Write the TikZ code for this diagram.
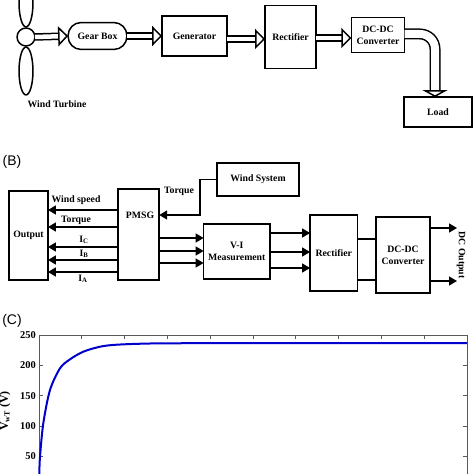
\documentclass[tikz,border=0pt]{standalone}
\usepackage{fontspec}
\setmainfont{Liberation Serif}
\newfontfamily\panelfont{Liberation Sans}
\usetikzlibrary{arrows.meta, shapes.geometric}

\def\w{1.5bp}
\def\blockfont{\fontsize{9.8}{12}\selectfont\bfseries}

\tikzset{
    blockbox/.style = {draw, line width = \w, inner sep = 0, outer sep = 0, align = center, font = \blockfont},
    bladeshape/.style = {draw, ellipse, line width = \w, inner sep = 0, outer sep = 0, minimum width = 14, minimum height = 48},
    hollowarrow/.style = {double, double distance = 4.5bp, line width = \w, -{Triangle[open, fill = white, length = 10bp, width = 20bp, line width = \w]}},
    bendarrow/.style = {double, double distance = 8bp, line width = \w, rounded corners = 15, -{Triangle[open, fill = white, length = 7bp, width = 25bp, line width = \w]}},
    solidarrow/.style = {line width = \w, -{Triangle[length = 8bp, width = 9bp]}},
    axislabel/.style = {font = \fontsize{10.5}{12}\selectfont\bfseries, inner sep = 0},
    panellabel/.style = {font = \panelfont\fontsize{14}{16}\selectfont, inner sep = 0},
    signallabel/.style = {font = \blockfont, inner sep = 0}
}

\begin{document}
\begin{tikzpicture}[x = 1bp, y = -1bp]
    \useasboundingbox (0,0) rectangle (474,474);
    \clip (0,0) rectangle (474,474);

    % wind turbine chain
    \node[bladeshape] (bladetop) at (26,3) {};
    \node[bladeshape] (bladebottom) at (26,71) {};
    \node[draw, circle, fill = white, line width = \w, inner sep = 0, outer sep = 0, minimum size = 18] (hub) at (26,37) {};
    \node[signallabel] (turbinelabel) at (57,104) {Wind Turbine};

    \node[blockbox, rounded corners = 13, minimum width = 59, minimum height = 27] (gearbox) at (97.5,36) {Gear Box};
    \node[blockbox, minimum width = 65, minimum height = 40] (generator) at (194.5,36) {Generator};
    \node[blockbox, minimum width = 51, minimum height = 63] (rectifier) at (290.5,37) {Rectifier};
    \node[blockbox, minimum width = 53.5, minimum height = 35] (converter) at (378,35) {DC-DC\\Converter};
    \node[blockbox, minimum width = 68, minimum height = 30] (load) at (438,112) {Load};

    \draw[hollowarrow] (hub.east) -- (gearbox.west);
    \draw[hollowarrow] (gearbox.east) -- (generator.west);
    \draw[hollowarrow] (generator.east |- 0,39) -- (rectifier.west |- 0,39);
    \draw[hollowarrow] (rectifier.east |- 0,38) -- (converter.west |- 0,38);
    \draw[bendarrow] (converter.east |- 0,34) -- (435,34) -- (435,0 |- load.north);

    % measurement chain
    \node[panellabel] (labelb) at (12,162) {(B)};
    \node[blockbox, minimum width = 39, minimum height = 89] (output) at (28.5,235.5) {Output};
    \node[blockbox, minimum width = 41.5, minimum height = 91] (pmsg) at (138.5,234.5) {};
    \node[signallabel] (pmsglabel) at (140,215) {PMSG};
    \node[blockbox, minimum width = 82, minimum height = 33] (windsystem) at (258,179.5) {Wind System};
    \node[blockbox, minimum width = 66.5, minimum height = 55] (measurement) at (236.75,251.5) {V-I\\Measurement};
    \node[blockbox, minimum width = 47.5, minimum height = 76] (rectifierb) at (333.75,253) {Rectifier};
    \node[blockbox, minimum width = 54, minimum height = 76] (converterb) at (403,255) {DC-DC\\Converter};

    \foreach \y in {210,227,247,260,272}
        \draw[solidarrow] (pmsg.west |- 0,\y) -- (output.east |- 0,\y);
    \foreach \y in {238,251,263}
        \draw[solidarrow] (pmsg.east |- 0,\y) -- (measurement.west |- 0,\y);
    \foreach \y in {233,252,268}
        \draw[solidarrow] (measurement.east |- 0,\y) -- (rectifierb.west |- 0,\y);
    \foreach \y in {239,280}
        \draw[line width = \w] (rectifierb.east |- 0,\y) -- (converterb.west |- 0,\y);

    \coordinate (outa) at (457,228);
    \coordinate (outb) at (457,281);
    \draw[solidarrow] (converterb.east |- outa) -- (outa);
    \draw[solidarrow] (converterb.east |- outb) -- (outb);
    \draw[solidarrow] (windsystem.west) -| (200,215) -- (pmsg.east |- 0,215);

    \node[signallabel] (speedlabel) at (76,200) {Wind speed};
    \node[signallabel] (torquelabel) at (76,220) {Torque};
    \node[signallabel] (iclabel) at (84,240) {I\textsubscript{C}};
    \node[signallabel] (iblabel) at (84,254) {I\textsubscript{B}};
    \node[signallabel] (ialabel) at (83,279) {I\textsubscript{A}};
    \node[signallabel] (torquetop) at (179,191) {Torque};
    \node[signallabel, rotate = -90] (dclabel) at (461,255) {DC Output};

    % voltage plot
    \node[panellabel] (labelc) at (12,321) {(C)};
    \draw[line width = 0.8bp, black!65] (39,500) -- (39,335) -- (467,335) -- (467,500);
    \foreach \k in {1,...,9}
        \draw[line width = 0.8bp, black!65] ({39 + 42.8 * \k},335) -- ({39 + 42.8 * \k},339);
    \foreach \v/\y in {250/335,200/365.3,150/395.6,100/426,50/456.2} {
        \node[axislabel, anchor = east] (tick\v) at (36,\y) {\v};
        \draw[line width = 0.8bp, black!65] (39,\y) -- (43,\y);
        \draw[line width = 0.8bp, black!65] (467,\y) -- (463,\y);
    }
    \node[axislabel, rotate = 90, font = \fontsize{12}{12}\selectfont\bfseries] (ylabel) at (5,411) {V\textsubscript{wT} (V)};

    \draw[line width = 2bp, blue!80!black] plot[smooth] coordinates {(39.3,474) (40,456.7) (43.3,423.3) (50,390) (60,368.3) (70,359.3) (83.3,351.7) (100,346.7) (116.7,344.7) (150,343.5) (200,343.2) (300,343.2) (467,343.2)};
\end{tikzpicture}
\end{document}
